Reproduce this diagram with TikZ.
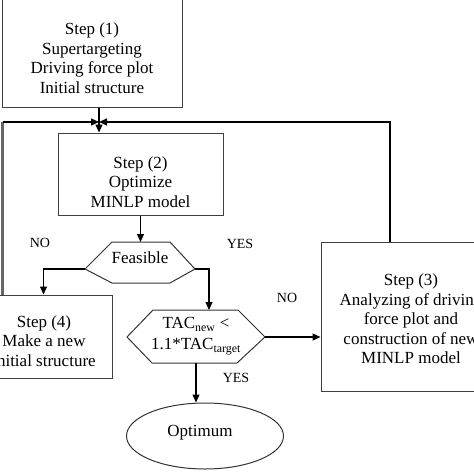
\documentclass[tikz,border=0pt]{standalone}
\usepackage{fontspec}
\setmainfont{Liberation Serif}
\usetikzlibrary{arrows.meta,shapes.geometric}
\begin{document}
\begin{tikzpicture}[x=1pt,y=-1pt,
  box/.style={draw=black!75, line width=1pt, inner sep=0pt},
  txt/.style={align=center, font=\fontsize{17}{19.5}\selectfont, inner sep=0pt},
  lbl/.style={font=\fontsize{14}{16}\selectfont, inner sep=0pt},
  conn/.style={draw=black, line width=1.2pt, -{Triangle[length=8pt,width=7pt]}},
  hexa/.style={draw=black!80, line width=1pt}]
\useasboundingbox (0,0) rectangle (474,474);
\clip (0,0) rectangle (474,474);

% Step 1
\node[box, minimum width=180, minimum height=140, anchor=south] (s1) at (92,107.5) {};
\node[txt] (s1t) at (92,58) {Step (1)\\Supertargeting\\Driving force plot\\Initial structure};

% Step 2
\node[box, minimum width=165, minimum height=82] (s2) at (140.5,174) {};
\node[txt] (s2t) at (140.5,182) {Step (2)\\Optimize\\MINLP model};

% Step 4
\node[box, minimum width=137, minimum height=83] (s4) at (43.5,336.5) {};
\node[txt] (s4t) at (44,341) {Step (4)\\Make a new\\initial structure};

% Step 3
\node[box, minimum width=181, minimum height=149] (s3) at (411.5,316.5) {};
\node[txt] (s3t) at (411,319) {Step (3)\\Analyzing of driving\\force plot and\\construction of new\\MINLP model};

% Feasible
\draw[hexa] (85,269) -- (112,242) -- (170,242) -- (195,269) -- (170,283) -- (112,283) -- cycle;
\coordinate (fel) at (85,269);
\coordinate (fer) at (195,269);
\coordinate (fet) at (140.5,242);
\node[txt] (fe) at (140,258) {Feasible};

% TAC
\draw[hexa] (127,337) -- (153,310) -- (238,310) -- (265,337) -- (237,363) -- (152,363) -- cycle;
\coordinate (tacr) at (265,337);
\coordinate (tacb) at (196,363);
\coordinate (tact) at (209,310);
\node[txt, font=\fontsize{17}{21}\selectfont] (tac) at (196,336) {TAC\textsubscript{new} <\\1.1*TAC\textsubscript{target}};

% Optimum
\node[draw=black!80, line width=1pt, ellipse, minimum width=157, minimum height=66, inner sep=0pt] (opt) at (205,436) {};
\node[txt] (optt) at (200,433) {Optimum};

% connectors
\coordinate (j) at (99,122);
\coordinate (lc) at (2.5,122);
\coordinate (rc) at (390,122);
\draw[conn] (s1.south -| j) -- (s2.north -| j);
\draw[black!60, line width=2.5pt] (s4.north -| lc) -- (lc);
\draw[conn] (lc) -- (j);
\draw[conn] (s3.north -| rc) -- (rc) -- (j);
\draw[conn] (s2.south -| fet) -- (fet);
\draw[conn] (fel) -| (s4.north);
\draw[conn] (fer) -| (tact);
\draw[conn] (tacr) -- (tacr -| s3.west);
\draw[conn] (tacb) -- (tacb |- opt.north);

% labels
\node[lbl] (no1) at (40,243) {NO};
\node[lbl] (yes1) at (240,244) {YES};
\node[lbl] (no2) at (287,298) {NO};
\node[lbl] (yes2) at (236,378) {YES};
\end{tikzpicture}
\end{document}
